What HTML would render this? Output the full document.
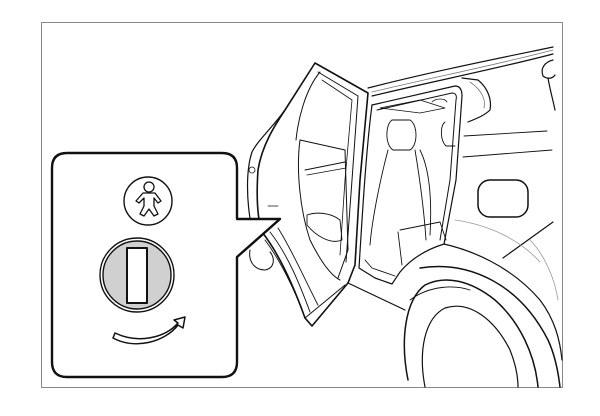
<!DOCTYPE html>
<html><head><meta charset="utf-8"><style>
html,body{margin:0;padding:0;background:#fff;}
svg{display:block}
</style></head><body>
<svg width="600" height="416" viewBox="0 0 600 416" xmlns="http://www.w3.org/2000/svg" fill="none" stroke="#111" stroke-linecap="round" stroke-linejoin="round">
<rect x="41.5" y="22.5" width="521" height="365" stroke="#888" stroke-width="1"/>
<g stroke-width="1.2">
<path d="M368 88 C430 72 500 58 553 47"/>
<path d="M372 96 C430 82 500 68 553 54"/>
<path d="M372 92 C430 78 500 64 553 50" stroke="#777" stroke-width="0.8"/>
<path d="M462 78 L478 80 C488 88 492 100 490 110 C485 115 478 118 468 122"/>
<path d="M470 82 C482 90 486 100 484 108" stroke="#777" stroke-width="0.8"/>
<path d="M553 60 C545 62 540 68 543 76 C548 80 553 78 555 75"/>
<path d="M548 78 C550 90 553 100 555 110"/>
<path d="M464 136 L547 131" stroke-width="0.9"/>
<path d="M463 157 L552 150" stroke-width="0.9"/>
<rect x="478" y="180" width="50" height="37" rx="12" stroke-width="1.5"/>
<path d="M372 105 L455 86 C460 86 462 90 462 96 L456 180 L444 244"/>
<path d="M377 110 L452 93 C456 93 457 96 456 100 L450 180 L440 240" stroke-width="1"/>
<path d="M372 105 C366 150 362 220 359 268 L375 278 L392 284 L400 272 C410 260 425 250 444 244"/>
<path d="M365 260 L372 268 L395 276" stroke-width="0.9"/>
<path d="M392 120 C385 125 385 145 393 150 L410 150 C418 145 418 125 410 120 Z" stroke-width="0.9"/>
<path d="M388 150 C380 180 372 220 370 245 M415 150 C420 180 424 210 426 240" stroke-width="0.9"/>
<path d="M445 122 C440 126 440 140 446 146 L455 146" stroke-width="0.9"/>
<path d="M420 150 C430 170 432 200 430 235" stroke-width="0.9"/>
<path d="M400 230 L440 222 L446 240 M398 232 L402 265" stroke-width="0.9"/>
<path d="M380 108 L420 100 L445 108 L420 113 Z" stroke-width="0.8"/>
<path d="M432 102 C436 98 445 98 447 102" stroke-width="0.8"/>
<path d="M348 283 L405 310"/>
<path d="M503 258 L553 222"/>
<path d="M444 244 C470 250 510 265 540 300 C555 320 560 340 562 360"/>
<path d="M420 268 C470 260 520 285 548 340 C555 355 558 370 560 387" stroke-width="1.5"/>
<path d="M408 380 C400 340 405 300 425 285 C445 275 470 280 495 300 C520 322 535 355 538 387" stroke-width="1.5"/>
<path d="M425 387 C418 350 425 318 445 308 C470 300 495 320 510 350 C516 365 518 378 518 387"/>
<path d="M410 300 C430 285 455 285 470 290" stroke-width="0.9"/>
<path d="M530 240 C545 255 555 280 558 300" stroke="#999" stroke-width="0.8"/>
<path d="M455 220 C490 225 520 240 540 262" stroke="#999" stroke-width="0.8"/>
<path d="M315 63 L368 93 L360 180 L355 265 L348 283 L312 326 L305 318 C295 290 280 255 262 232 C258 220 256 200 258 170 C262 145 275 125 285 110 Z" stroke-width="1.6"/>
<path d="M318 72 L358 96 L352 180 L346 262 M320 72 C305 90 298 120 296 140" stroke-width="1"/>
<path d="M322 80 L352 100 L345 180 L340 255" stroke-width="0.8"/>
<path d="M300 140 L345 150 L348 250 L338 278" stroke-width="1"/>
<path d="M300 140 C296 170 300 210 310 240 C320 260 330 275 340 280" stroke-width="1"/>
<path d="M305 170 L345 162" stroke-width="1"/>
<path d="M307 175 L346 168" stroke-width="0.8"/>
<path d="M307 215 C315 212 330 212 340 220 L342 240 C330 245 315 235 307 225 Z" stroke-width="0.9"/>
<path d="M265 240 C280 260 295 290 305 318 M270 232 C288 255 300 285 310 312 M278 228 C292 250 305 280 318 305" stroke-width="0.9"/>
<path d="M312 326 L305 318 L345 285" stroke-width="1"/>
<path d="M285 110 C272 128 258 140 252 152 C246 170 246 200 252 230"/>
<circle cx="252" cy="170" r="3" stroke-width="0.8"/>
<path d="M268 206 L278 206" stroke-width="0.8"/>
<path d="M250 250 C248 262 255 270 265 270 C275 268 275 258 270 252" stroke-width="1"/>
</g>
<path d="M67 153 L222 153 Q237 153 237 168 L237 219 L280 219 L237 257 L237 362 Q237 377 222 377 L67 377 Q52 377 52 362 L52 168 Q52 153 67 153 Z" fill="#fff" stroke="#111" stroke-width="2.4"/>
<circle cx="148" cy="201" r="24" stroke-width="1.4"/>
<circle cx="149" cy="187" r="5" stroke-width="1.3"/>
<path d="M143 193 L155 193 L161 201 L158 203 L154 198 L154 206 L158 214 L154 216 L149 209 L144 216 L140 214 L144 206 L144 198 L139 203 L136 201 Z" stroke-width="1.3"/>
<circle cx="137" cy="275" r="37" stroke-width="1.4" fill="#fff"/>
<circle cx="137" cy="275" r="34" fill="#d0d0d0" stroke-width="1.4"/>
<rect x="127" y="248" width="20" height="55" fill="#fff" stroke-width="2"/>
<path d="M113 338 C135 350 165 342 178 325 L183 328 L185 317 L174 320 L178 323 C165 338 138 344 115 333 Z" fill="#fff" stroke-width="1.5"/>
</svg>
</body></html>
